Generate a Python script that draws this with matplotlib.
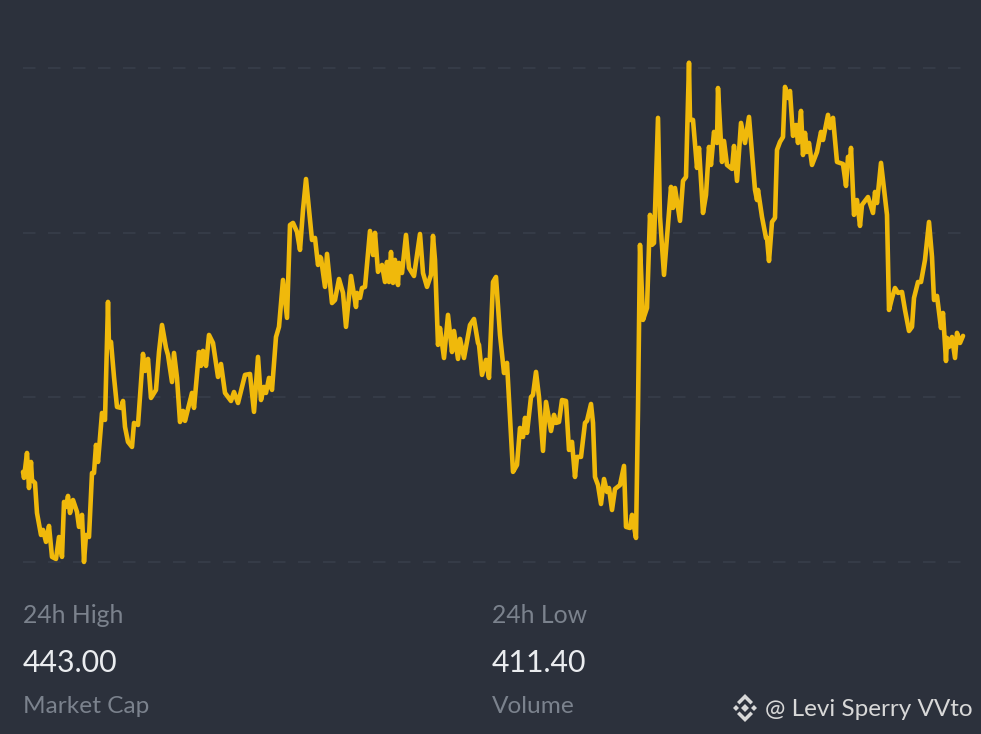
import matplotlib
matplotlib.use("Agg")
import matplotlib.pyplot as plt
from matplotlib.patches import Polygon

# time steps along the chart (1 step is about 1.5 minutes of the 24h window)
steps_a = [0,1,4,6,8,9,12,14,18,20,23,26,29,33,36,39,41,43,45,47,50,54,56,59,61,63,66,69,71,73,75,79,82,85,86,88,91,94,98,100,
           102,105,109,111,115,120,122,125,128,133,136,139,143,145,149,151,154,157,160,162,169,171,176,178,180,183,186,190,195,198,
           202,208,211,215,222,227,231,235,238,241,243,246,249,253,256,260,264,267,270,274,277,280,283,286,289,292,295,297]
prices_a = [417.10,416.72,418.30,416.08,417.73,416.59,416.40,414.50,413.11,413.43,412.67,413.68,411.72,411.59,412.98,411.72,415.20,414.88,415.58,414.50,
            415.32,414.57,413.62,414.38,411.40,413.11,412.98,417.03,417.03,418.81,417.73,420.83,420.39,427.86,425.01,425.33,423.11,421.21,421.15,421.59,
            419.95,419.00,418.68,420.20,420.07,424.57,423.49,424.25,421.78,422.29,424.69,426.40,424.95,424.50,422.79,424.63,423.05,420.26,420.96,420.33,
            422.10,421.15,424.69,423.81,424.76,423.81,425.77,425.26,423.11,423.93,422.10,421.59,422.16,421.46,423.24,423.30,420.90,424.38,421.65,422.48,
            422.10,423.05,422.29,425.64,426.28,429.25,426.85,432.73,432.86,432.29,431.15,433.68,435.64,433.68,431.78,431.91,430.20,430.71]

steps_b = [298,302,304,309,312,316,320,323,328,333,334,337,339,342,344,347,350,352,355,359,362,364,366,368,370,372,375,376,379,383,
           386,391,397,400,404,408,410,412,415,417,421,425,429,431,435,437,441,447,451,455,456,459,463,466,470,473,477,481,484,490,
           494,497,500,502,504,508,510,513,516,520,523,528,531,533,536,539,543,546,549,552,554,558,562,564,568,570,572,575,578,581,
           584,586,589,592,597,601,603,607,609,613,615]
prices_b = [430.64,428.81,430.90,427.79,427.98,429.31,428.43,426.28,429.50,427.54,428.43,428.11,428.74,428.81,430.20,432.35,430.83,432.23,429.76,430.20,
            429.12,430.39,429.12,431.02,429.06,430.52,428.93,430.33,429.69,432.10,430.01,429.50,432.16,429.69,428.81,429.57,432.04,430.52,425.14,426.21,
            424.31,427.04,424.69,426.02,424.25,425.52,424.31,426.40,426.78,425.26,425.14,423.24,424.19,423.05,429.12,429.44,425.77,423.36,424.00,417.10,
            417.54,419.88,419.31,420.52,419.57,421.84,421.97,423.43,421.84,418.43,421.53,419.69,420.71,420.20,420.26,421.65,421.59,418.49,419.00,416.78,
            418.05,418.05,420.20,420.33,421.40,420.20,416.78,416.27,415.07,416.65,415.83,416.08,414.69,416.02,416.27,417.48,413.62,413.55,414.38,412.92,421.02]

steps_c = [617,620,624,627,629,631,635,637,641,643,648,650,652,657,660,663,666,667,670,674,676,680,683,686,688,691,694,695,699,701,
           704,709,711,714,718,722,726,732,734,735,739,743,744,746,749,752,754,757,760,762,765,767,770,773,775,778,780,782,784,786,
           789,794,798,800,805,807,810,814,820,823,825,827,828,831,834,837,839,845,850,852,854,858,864,866,869,872,875,879,882,886,
           889,891,895,898,902,906,909,911,914,918,920,923,924,926,929,932,934,937,940]
prices_c = [431.47,426.72,427.48,433.37,431.47,431.59,439.51,433.24,429.57,431.15,435.14,433.81,435.07,432.99,435.52,435.77,443.00,439.38,439.38,436.34,
            437.61,433.49,434.63,437.67,436.53,438.62,437.92,441.40,436.72,438.05,436.53,436.28,437.73,435.52,439.19,437.92,439.57,434.95,434.31,434.95,
            433.24,431.91,431.91,430.45,432.92,433.18,437.48,437.99,438.30,441.47,440.77,441.21,438.37,439.06,437.92,439.95,437.16,438.56,437.35,437.92,
            436.53,437.35,438.62,438.11,439.70,438.87,439.51,436.72,436.59,435.20,437.04,436.66,437.61,433.37,434.31,432.67,434.00,434.50,433.49,434.82,
            434.12,436.66,433.37,427.35,428.11,428.74,428.43,428.49,427.35,426.02,426.28,428.11,429.12,429.12,430.52,432.92,430.71,427.98,428.24,426.21,
            427.16,424.12,425.58,425.01,425.64,424.31,425.90,425.26,425.71]

grid_levels = [442.67, 432.23, 421.84, 411.40]
stat_labels = ["24h High", "24h Low"]
stat_values = ["443.00", "411.40"]
lower_labels = ["Market Cap", "Volume"]

BG = "#2c313c"
W, H = 981, 734

plt.rcParams["font.family"] = ["Lato", "DejaVu Sans"]

fig = plt.figure(figsize=(W / 100, H / 100), dpi=100, facecolor=BG)
ax = fig.add_axes([0, 0, 1, 1], facecolor=BG)
ax.set_xlim(-23, W - 23)
ax.set_ylim(400.51, 446.97)
ax.axis("off")

ax.hlines(grid_levels, 0, 940, colors="#353b47", linewidth=1.5, linestyles=[(0, (6, 6))], zorder=1)
ax.plot(steps_a + steps_b + steps_c, prices_a + prices_b + prices_c,
        color="#f0b90b", linewidth=3.3, solid_joinstyle="round", solid_capstyle="round", zorder=2)


def px_text(x, y, s, size, color, **kw):
    fig.text(x / W, 1 - y / H, s, fontsize=size, color=color, va="baseline", **kw)


for x, top, val, low in zip([23, 492], stat_labels, stat_values, lower_labels):
    px_text(x, 623, top, 17.8, "#7b828d")
    px_text(x, 672, val, 21.8, "#eaecef")
    px_text(x, 713, low, 17.6, "#7b828d")

px_text(765, 716, "@ Levi Sperry VVto", 17.5, "#d8d8d8")


# little diamond logo in front of the watermark
def logo_patch(points):
    verts = [((745 + dx) / W, 1 - (708 + dy) / H) for dx, dy in points]
    fig.add_artist(Polygon(verts, closed=True, facecolor="#d8d8d8", edgecolor="none", transform=fig.transFigure))


logo_patch([(0, -4), (4, 0), (0, 4), (-4, 0)])
logo_patch([(-9, -3), (-6, 0), (-9, 3), (-12, 0)])
logo_patch([(9, -3), (12, 0), (9, 3), (6, 0)])
logo_patch([(0, -14), (8, -6), (5.5, -3.5), (0, -9), (-5.5, -3.5), (-8, -6)])
logo_patch([(0, 14), (8, 6), (5.5, 3.5), (0, 9), (-5.5, 3.5), (-8, 6)])

fig.savefig("out.png", facecolor=BG)
